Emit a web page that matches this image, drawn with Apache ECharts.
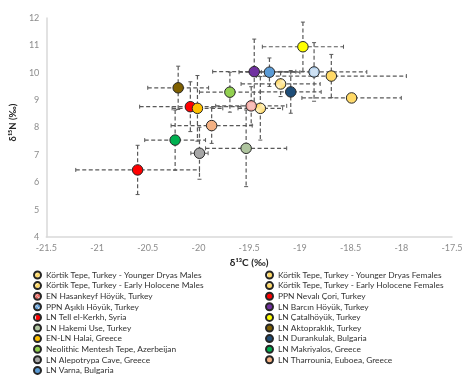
<!DOCTYPE html>
<html><head><meta charset="utf-8">
<script src="https://cdn.jsdelivr.net/npm/echarts@6/dist/echarts.min.js"></script>
<style>html,body{margin:0;padding:0;background:#fff}#c{width:474px;height:381px}</style>
</head><body><div id="c"></div>
<script>
// ---- data ----
const seriesNames = [
  'Körtik Tepe, Turkey - Younger Dryas Males',
  'Körtik Tepe, Turkey - Early Holocene Males',
  'EN Hasankeyf Höyük, Turkey',
  'PPN Aşıklı Höyük, Turkey',
  'LN Tell el-Kerkh, Syria',
  'LN Hakemi Use, Turkey',
  'EN-LN Halai, Greece',
  'Neolithic Mentesh Tepe, Azerbeijan',
  'LN Alepotrypa Cave, Greece',
  'LN Varna, Bulgaria',
  'Körtik Tepe, Turkey - Younger Dryas Females',
  'Körtik Tepe, Turkey - Early Holocene Females',
  'PPN Nevalı Çori, Turkey',
  'LN Barcın Höyük, Turkey',
  'LN Çatalhöyük, Turkey',
  'LN Aktopraklık, Turkey',
  'LN Durankulak, Bulgaria',
  'LN Makriyalos, Greece',
  'LN Tharrounia, Euboea, Greece'
];
const d13C = [-19.19, -19.39, -19.48, -18.86, -20.08, -19.53, -20.01, -19.69, -19.99, -19.30,
              -18.69, -18.49, -20.60, -19.45, -18.97, -20.20, -19.09, -20.23, -19.87];
const d15N = [9.59, 8.70, 8.79, 10.03, 8.76, 7.24, 8.70, 9.29, 7.06, 10.02,
              9.88, 9.08, 6.45, 10.04, 10.95, 9.45, 9.30, 7.54, 8.07];
const d13CErr = [0.39, 0.22, 0.35, 0.52, 0.50, 0.40, 0.25, 0.30, 0.085, 0.30,
                 0.74, 0.49, 0.61, 0.41, 0.40, 0.30, 0.30, 0.30, 0.40];
const d15NErr = [0.46, 1.16, 0.70, 1.07, 0.91, 1.40, 1.20, 0.73, 0.95, 0.52,
                 0.79, 0.10, 0.90, 1.19, 0.90, 0.79, 0.78, 1.10, 0.65];
const xAxisMin = -21.5, xAxisMax = -17.5, xAxisStep = 0.5;
const yAxisMin = 4, yAxisMax = 12, yAxisStep = 1;

// ---- styles ----
function pattern(bg, fg, kind) {
  const n = 5;
  const c = document.createElement('canvas');
  c.width = n; c.height = n;
  const g = c.getContext('2d');
  g.fillStyle = bg; g.fillRect(0, 0, n, n);
  g.strokeStyle = fg; g.lineWidth = 0.9;
  g.beginPath();
  if (kind === 'v') { g.moveTo(1.5, 0); g.lineTo(1.5, n); }
  else if (kind === 'h') { g.moveTo(0, 1.5); g.lineTo(n, 1.5); }
  else if (kind === 'd') { g.moveTo(0, n); g.lineTo(n, 0); g.moveTo(-1, 1); g.lineTo(1, -1); g.moveTo(n - 1, n + 1); g.lineTo(n + 1, n - 1); }
  else if (kind === 'x') { g.moveTo(0, n); g.lineTo(n, 0); g.moveTo(0, 0); g.lineTo(n, n); }
  g.stroke();
  return { image: c, repeat: 'repeat' };
}
const fills = [
  pattern('#ffd966', '#fff8dc', 'd'),
  pattern('#ffd966', '#fff8dc', 'd'),
  pattern('#e8675f', '#f9c9c5', 'x'),
  pattern('#5b9bd5', '#dbe9f6', 'x'),
  pattern('#ff0000', '#ffffff', 'v'),
  '#afc59f', '#ffc000', '#92d050', '#a6a6a6', '#5b9bd5',
  pattern('#ffd966', '#fff8dc', 'v'),
  pattern('#ffd966', '#fff8dc', 'h'),
  '#ff0000', '#7030a0', '#ffff00', '#7f6000', '#1f4e79', '#00b050', '#f4b183'
];

const font = 'Lato, "Open Sans", sans-serif';
const chart = echarts.init(document.getElementById('c'), null, { renderer: 'canvas' });

const errData = d13C.map((x, i) => [x, d15N[i], d13CErr[i], d15NErr[i]]);
const errColor = '#595959';

const series = [{
  type: 'custom',
  name: 'err',
  silent: true,
  z: 1,
  encode: { x: 0, y: 1 },
  data: errData,
  renderItem(params, api) {
    const x = api.value(0), y = api.value(1), ex = api.value(2), ey = api.value(3);
    const l = api.coord([x - ex, y]), r = api.coord([x + ex, y]);
    const t = api.coord([x, y + ey]), b = api.coord([x, y - ey]);
    const st = { stroke: errColor, lineWidth: 1.2, lineDash: [4, 2.5], fill: null };
    const cs = { stroke: errColor, lineWidth: 1, fill: null };
    const cap = 2;
    return { type: 'group', children: [
      { type: 'line', shape: { x1: l[0], y1: l[1], x2: r[0], y2: r[1] }, style: st },
      { type: 'line', shape: { x1: t[0], y1: t[1], x2: b[0], y2: b[1] }, style: st },
      { type: 'line', shape: { x1: l[0], y1: l[1] - cap, x2: l[0], y2: l[1] + cap }, style: cs },
      { type: 'line', shape: { x1: r[0], y1: r[1] - cap, x2: r[0], y2: r[1] + cap }, style: cs },
      { type: 'line', shape: { x1: t[0] - cap, y1: t[1], x2: t[0] + cap, y2: t[1] }, style: cs },
      { type: 'line', shape: { x1: b[0] - cap, y1: b[1], x2: b[0] + cap, y2: b[1] }, style: cs }
    ]};
  }
}];
seriesNames.forEach((n, i) => {
  series.push({
    type: 'scatter', name: n, z: 3,
    symbol: 'circle', symbolSize: 10.5,
    itemStyle: { color: fills[i], borderColor: '#262626', borderWidth: 1, opacity: 1 },
    emphasis: { disabled: true },
    data: [[d13C[i], d15N[i]]]
  });
});

const legendBase = {
  orient: 'vertical', top: 270, height: 111, padding: 0,
  itemWidth: 7, itemHeight: 7, itemGap: 0.6,
  icon: 'circle', selectedMode: false,
  textStyle: { fontFamily: font, fontSize: 8.4, color: '#333333', lineHeight: 10 }
};

chart.setOption({
  animation: false,
  backgroundColor: '#fff',
  grid: { left: 32, right: 22, top: 18, bottom: 144, containLabel: false },
  xAxis: {
    type: 'value', min: xAxisMin, max: xAxisMax, interval: xAxisStep,
    name: 'δ¹³C (‰)', nameLocation: 'middle', nameGap: 21,
    nameTextStyle: { fontFamily: font, fontWeight: 'bold', fontSize: 10, color: '#262626' },
    axisLine: { show: true, lineStyle: { color: '#d9d9d9', width: 1.5 } },
    axisTick: { show: false }, splitLine: { show: false },
    axisLabel: { color: '#8c8c8c', fontFamily: font, fontSize: 9, margin: 7 }
  },
  yAxis: {
    type: 'value', min: yAxisMin, max: yAxisMax, interval: yAxisStep,
    name: 'δ¹⁵N (‰)', nameLocation: 'middle', nameGap: 20, nameRotate: 90,
    nameTextStyle: { fontFamily: font, fontWeight: 'bold', fontSize: 9.5, color: '#262626', padding: [0, 0, 0, 10] },
    axisLine: { show: true, lineStyle: { color: '#d9d9d9', width: 1.5 } },
    axisTick: { show: false }, splitLine: { show: false },
    axisLabel: { color: '#8c8c8c', fontFamily: font, fontSize: 9, margin: 7 }
  },
  legend: [
    Object.assign({}, legendBase, { left: 33, data: seriesNames.slice(0, 10) }),
    Object.assign({}, legendBase, { left: 265, data: seriesNames.slice(10) })
  ],
  series: series
});
</script>
</body></html>
